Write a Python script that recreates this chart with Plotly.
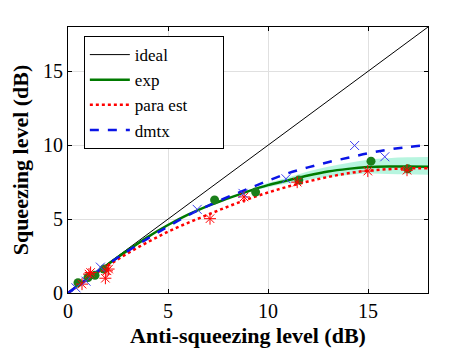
import plotly.graph_objects as go

# Curves
x_curve = [0, 1, 2, 3, 4, 5, 6, 7, 8, 9, 10, 11, 12, 13, 14, 15, 16, 17, 18]
ideal_y = x_curve
exp_y = [0, 1.0, 1.95, 2.9, 3.8, 4.6, 5.3, 5.9, 6.4, 6.88, 7.3, 7.62, 7.95, 8.22, 8.4, 8.52, 8.56, 8.56, 8.55]
para_y = [0, 0.95, 1.85, 2.7, 3.45, 4.15, 4.75, 5.3, 5.85, 6.35, 6.8, 7.2, 7.55, 7.85, 8.1, 8.28, 8.38, 8.43, 8.45]
dmtx_y = [0, 1.0, 1.95, 2.85, 3.7, 4.5, 5.25, 5.9, 6.5, 7.05, 7.6, 8.1, 8.5, 8.85, 9.15, 9.45, 9.7, 9.88, 10.0]

# Confidence band around exp
band_x = [8.5, 9, 10, 11, 12, 13, 14, 15, 16, 17, 18]
band_lo = [6.62, 6.82, 7.16, 7.42, 7.66, 7.85, 7.98, 8.08, 8.06, 8.03, 8.0]
band_hi = [6.66, 6.94, 7.44, 7.82, 8.22, 8.55, 8.8, 9.02, 9.12, 9.18, 9.2]

# Measured points
exp_px = [0.5, 1.0, 1.35, 1.79, 7.33, 9.38, 11.54, 15.15, 16.99]
exp_py = [0.7, 1.05, 1.2, 1.62, 6.3, 6.83, 7.64, 8.92, 8.4]
para_px = [0.7, 1.05, 1.13, 1.87, 1.95, 2.03, 7.1, 8.8, 11.46, 14.99, 16.95]
para_py = [0.6, 1.28, 1.39, 1.0, 1.5, 1.62, 5.03, 6.5, 7.5, 8.25, 8.31]
dmtx_px = [0.4, 0.9, 1.62, 6.46, 8.75, 10.9, 14.33, 15.84]
dmtx_py = [0.35, 0.8, 1.75, 5.66, 6.74, 7.73, 9.98, 9.22]

tick_vals = [0, 5, 10, 15]
legend_names = ["ideal", "exp", "para est" + "\u00a0" * 7, "dmtx"]

font_family = "Liberation Serif"

fig = go.Figure()

fig.add_trace(go.Scatter(x=band_x, y=band_lo, mode="lines", line=dict(width=0, shape="spline"),
                         showlegend=False, hoverinfo="skip"))
fig.add_trace(go.Scatter(x=band_x, y=band_hi, mode="lines", line=dict(width=0, shape="spline"),
                         fill="tonexty", fillcolor="rgba(165,242,215,0.8)",
                         showlegend=False, hoverinfo="skip"))

fig.add_trace(go.Scatter(x=x_curve, y=ideal_y, mode="lines", name=legend_names[0],
                         line=dict(color="black", width=1)))
fig.add_trace(go.Scatter(x=x_curve, y=exp_y, mode="lines", name=legend_names[1],
                         line=dict(color="#007a00", width=2.5, shape="spline")))
fig.add_trace(go.Scatter(x=x_curve, y=para_y, mode="lines", name=legend_names[2],
                         line=dict(color="red", width=2.5, dash="dot", shape="spline")))
fig.add_trace(go.Scatter(x=x_curve, y=dmtx_y, mode="lines", name=legend_names[3],
                         line=dict(color="#0a14e6", width=2.5, dash="dash", shape="spline")))

fig.add_trace(go.Scatter(x=exp_px, y=exp_py, mode="markers", showlegend=False,
                         marker=dict(symbol="circle", size=9, color="#1a7f1a")))
fig.add_trace(go.Scatter(x=para_px, y=para_py, mode="markers", showlegend=False,
                         marker=dict(symbol="asterisk-open", size=10, color="red",
                                     line=dict(color="red", width=1))))
fig.add_trace(go.Scatter(x=dmtx_px, y=dmtx_py, mode="markers", showlegend=False,
                         marker=dict(symbol="x-thin-open", size=9, color="#3b3bf0",
                                     line=dict(color="#3b3bf0", width=1))))

axis_common = dict(
    range=[0, 18], tickvals=tick_vals, ticks="inside", ticklen=4,
    tickcolor="black", showline=True, linecolor="black", linewidth=1,
    mirror="ticks", showgrid=True, gridcolor="#e0e0e0", gridwidth=1,
    zeroline=False, tickfont=dict(family=font_family, size=20, color="black"),
)

fig.update_xaxes(**axis_common,
                 title=dict(text="<b>Anti-squeezing level (dB)</b>", standoff=6,
                            font=dict(family=font_family, size=22, color="black")))
fig.update_yaxes(**axis_common,
                 title=dict(text="<b>Squeezing level (dB)</b>", standoff=8,
                            font=dict(family=font_family, size=22, color="black")))

fig.update_layout(
    width=466, height=347,
    font=dict(family=font_family, size=17, color="black"),
    margin=dict(l=54, r=46, t=19, b=61),
    plot_bgcolor="white", paper_bgcolor="white",
    showlegend=True,
    legend=dict(x=0.044, y=0.966, xanchor="left", yanchor="top",
                traceorder="normal",
                bgcolor="white", bordercolor="black", borderwidth=1,
                font=dict(family=font_family, size=17, color="black"),
                tracegroupgap=0, itemwidth=40),
)

fig.write_html("out.html")
